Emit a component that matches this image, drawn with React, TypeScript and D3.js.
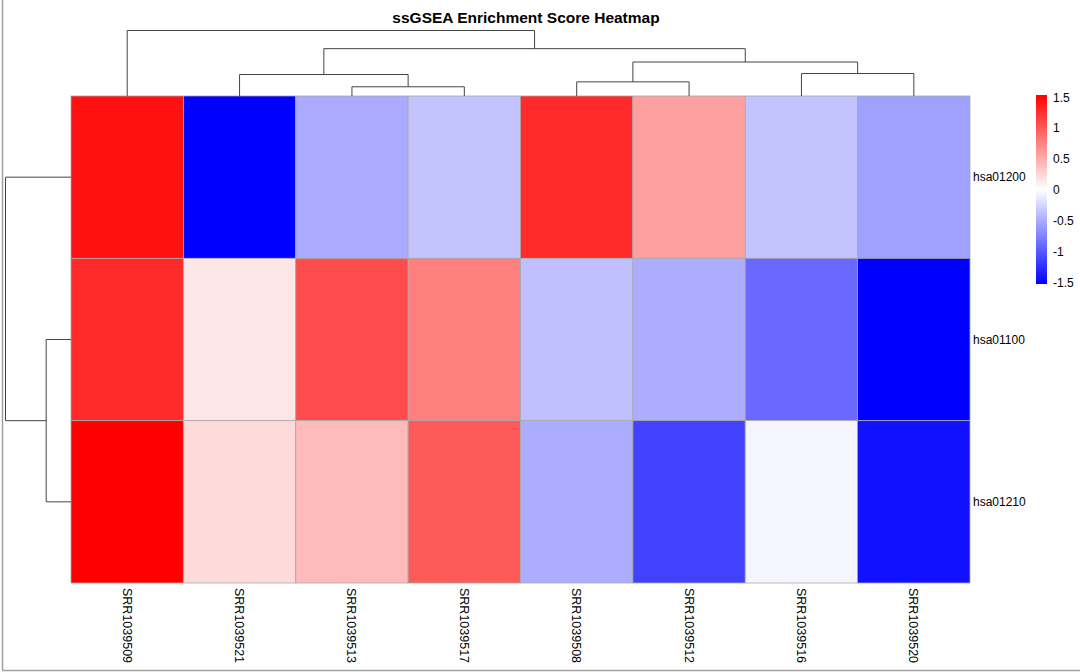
import React from "react";
import * as d3 from "d3";

const title = "ssGSEA Enrichment Score Heatmap";
const samples = ["SRR1039509", "SRR1039521", "SRR1039513", "SRR1039517", "SRR1039508", "SRR1039512", "SRR1039516", "SRR1039520"];
const pathways = ["hsa01200", "hsa01100", "hsa01210"];
const scoresHsa01200 = [1.4, -1.5, -0.5, -0.35, 1.25, 0.56, -0.35, -0.56];
const scoresHsa01100 = [1.25, 0.15, 1.06, 0.76, -0.37, -0.48, -0.88, -1.5];
const scoresHsa01210 = [1.5, 0.22, 0.4, 0.97, -0.48, -1.12, -0.06, -1.4];
const scoreRows = [scoresHsa01200, scoresHsa01100, scoresHsa01210];
const legendTicks = [1.5, 1, 0.5, 0, -0.5, -1, -1.5];

// hclust-style merges: negative = leaf (1-based, display order), positive = earlier merge
const colMerge: [number, number][] = [[-3, -4], [-5, -6], [-2, 1], [-7, -8], [2, 4], [3, 5], [-1, 6]];
const colHeight = [0.94, 1.44, 2.19, 2.29, 3.46, 4.82, 6.67];
const rowMerge: [number, number][] = [[-2, -3], [-1, 1]];
const rowHeight = [2.5, 6.6];

const W = 1080, H = 672;
const hmLeft = 71, hmRight = 970, hmTop = 96, hmBottom = 583;

function dendroSegments(merge: [number, number][], heights: number[], leafPos: (i: number) => number) {
  const pos: number[] = [];
  const segs: { a: number; b: number; ha: number; hb: number; h: number }[] = [];
  const get = (k: number) => (k < 0 ? { p: leafPos(-k - 1), h: 0 } : { p: pos[k - 1], h: heights[k - 1] });
  merge.forEach(([l, r], i) => {
    const L = get(l), R = get(r);
    pos[i] = (L.p + R.p) / 2;
    segs.push({ a: L.p, b: R.p, ha: L.h, hb: R.h, h: heights[i] });
  });
  return segs;
}

export default function App() {
  const x = d3.scaleBand<string>().domain(samples).range([hmLeft, hmRight]);
  const y = d3.scaleBand<string>().domain(pathways).range([hmTop, hmBottom]);
  const color = d3.scaleLinear<string>().domain([-1.5, 0, 1.5]).range(["#0000ff", "#ffffff", "#ff0000"]).clamp(true);
  const colH = d3.scaleLinear().domain([0, d3.max(colHeight)!]).range([hmTop, 30.5]);
  const rowH = d3.scaleLinear().domain([0, d3.max(rowHeight)!]).range([hmLeft, 5.5]);
  const colSegs = dendroSegments(colMerge, colHeight, (i) => x(samples[i])! + x.bandwidth() / 2);
  const rowSegs = dendroSegments(rowMerge, rowHeight, (i) => y(pathways[i])! + y.bandwidth() / 2);

  const legTop = 95, legBottom = 284, legX = 1036, legW = 11;
  const ly = d3.scaleLinear().domain([-1.5, 1.5]).range([legBottom - 1.5, legTop + 2.5]);
  const stops = d3.range(0, 1.0001, 0.05);

  const font = "'Liberation Sans', Arial, sans-serif";

  return (
    <svg width={W} height={H} style={{ position: "absolute", left: 0, top: 0, background: "#fff" }} fontFamily={font}>
      <defs>
        <linearGradient id="leg" x1="0" y1="1" x2="0" y2="0">
          {stops.map((s) => (
            <stop key={s} offset={s} stopColor={color(-1.5 + 3 * s)} />
          ))}
        </linearGradient>
      </defs>
      <rect x={0} y={0} width={W} height={H} fill="#fff" />
      <line x1={2.5} y1={0} x2={2.5} y2={670.5} stroke="#a0a0a0" strokeWidth={1.5} />
      <line x1={2} y1={670.5} x2={W} y2={670.5} stroke="#a0a0a0" strokeWidth={1.5} />

      <text x={526} y={23} textAnchor="middle" fontSize={15.5} fontWeight="bold" fill="#000">{title}</text>

      {scoreRows.map((row, ri) =>
        row.map((v, ci) => (
          <rect key={`${ri}-${ci}`} x={x(samples[ci])} y={y(pathways[ri])} width={x.bandwidth()} height={y.bandwidth()}
            fill={color(v)} stroke="#a8a8a8" strokeWidth={0.8} />
        ))
      )}

      <g stroke="#444" strokeWidth={1} fill="none">
        {colSegs.map((s, i) => (
          <path key={i} d={`M${s.a},${colH(s.ha)}V${colH(s.h)}H${s.b}V${colH(s.hb)}`} />
        ))}
        {rowSegs.map((s, i) => (
          <path key={i} d={`M${rowH(s.ha)},${s.a}H${rowH(s.h)}V${s.b}H${rowH(s.hb)}`} />
        ))}
      </g>

      {pathways.map((p) => (
        <text key={p} x={hmRight + 3} y={y(p)! + y.bandwidth() / 2 + 4} fontSize={12} fill="#000">{p}</text>
      ))}
      {samples.map((s) => (
        <text key={s} transform={`translate(${x(s)! + x.bandwidth() / 2 - 4.5},${hmBottom + 5}) rotate(90)`} fontSize={12.5} fill="#000">{s}</text>
      ))}

      <rect x={legX} y={legTop} width={legW} height={legBottom - legTop} fill="url(#leg)" />
      {legendTicks.map((t) => (
        <text key={t} x={legX + legW + 6} y={ly(t) + 4} fontSize={12} fill="#000">{String(t)}</text>
      ))}
    </svg>
  );
}
